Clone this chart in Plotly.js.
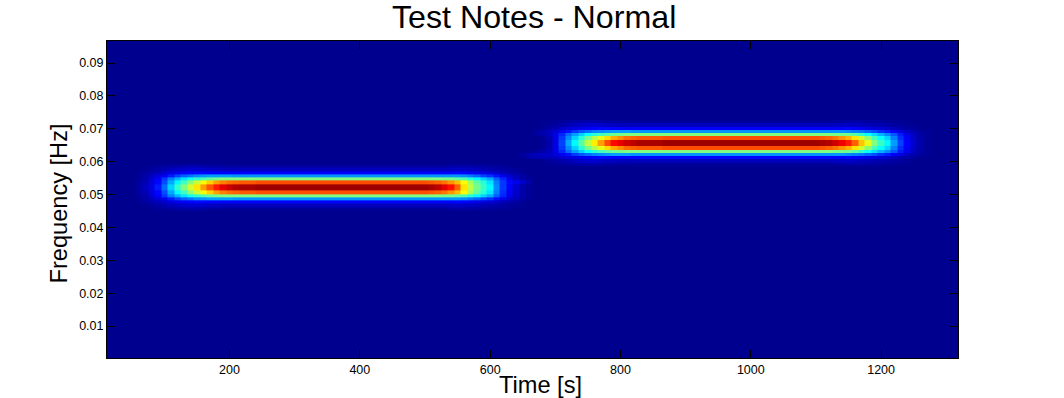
<!DOCTYPE html>
<html><head><meta charset="utf-8">
<script src="https://cdn.plot.ly/plotly-3.0.1.min.js"></script>
<style>html,body{margin:0;padding:0;background:#fff}</style></head>
<body><div id="chart" style="width:1064px;height:398px"></div>
<script>
const xTicks = [200,400,600,800,1000,1200];
const yTicks = [0.01,0.02,0.03,0.04,0.05,0.06,0.07,0.08,0.09];
const yTickText = ['0.01','0.02','0.03','0.04','0.05','0.06','0.07','0.08','0.09'];

const note1Time = [50,60,70,80,90,100,110,120,130,140,150,160,170,180,190,200,210,220,260,320,380,440,500,510,520,530,540,550,560,570,580,590,600,610,620,630,640,650,660];
const note1Freq = [0.04568,0.04668,0.04768,0.04868,0.04968,0.05068,0.05168,0.05268,0.05368,0.05468,0.05568,0.05668,0.05768,0.05868];
const n1r0 = [0,.02,.05,.09,.15,.23,.33,.42,.50,.58,.65,.72,.79,.85,.90,.93,.95,.96,.97,.97,.97,.97,.97,.96,.94,.90,.86,.78,.65,.56,.49,.43,.37,.26,.18,.12,.07,.03,.01];
const n1r1 = [0,.015,.04,.08,.13,.20,.29,.37,.44,.51,.57,.62,.67,.72,.75,.77,.78,.79,.80,.80,.80,.80,.80,.79,.78,.76,.73,.69,.62,.54,.47,.41,.35,.25,.17,.11,.065,.03,.01];
const n1r1up = [0,.015,.04,.08,.13,.20,.29,.37,.44,.51,.57,.62,.67,.72,.75,.77,.78,.79,.80,.80,.80,.80,.80,.79,.78,.76,.73,.69,.62,.54,.47,.41,.35,.25,.18,.13,.10,.07,.03];
const n1r2 = [0,.01,.03,.07,.12,.18,.25,.30,.35,.39,.42,.45,.47,.49,.50,.50,.50,.50,.50,.50,.50,.50,.50,.50,.50,.49,.49,.47,.45,.41,.37,.33,.29,.22,.16,.10,.06,.03,.01];
const n1r3 = [0,.01,.025,.05,.08,.11,.15,.19,.22,.24,.26,.27,.28,.28,.28,.28,.27,.27,.27,.27,.27,.27,.27,.27,.27,.27,.27,.27,.26,.24,.22,.19,.17,.14,.10,.07,.045,.025,.01];
const n1r4 = [0,.005,.02,.035,.05,.07,.09,.105,.115,.125,.13,.13,.125,.125,.12,.12,.12,.12,.12,.12,.12,.12,.12,.12,.12,.12,.125,.13,.125,.11,.10,.09,.08,.065,.05,.035,.02,.01,0];
const n1r5 = [0,0,.005,.015,.025,.035,.05,.06,.065,.07,.07,.065,.06,.055,.05,.05,.05,.05,.05,.05,.05,.05,.05,.05,.05,.05,.055,.06,.06,.055,.05,.04,.035,.03,.02,.015,.01,.005,0];
const n1r6 = [0,0,0,.005,.01,.015,.02,.025,.03,.03,.03,.025,.02,.02,.015,.015,.01,.01,.01,.01,.01,.01,.01,.01,.01,.015,.02,.025,.025,.025,.02,.02,.015,.01,.01,.005,0,0,0];

const note2Time = [650,660,670,680,690,700,710,720,730,740,750,760,770,780,790,800,810,820,830,900,970,1040,1100,1110,1120,1130,1140,1150,1160,1170,1180,1190,1200,1210,1220,1230,1240,1250,1260,1270];
const note2Freq = [0.05917,0.06017,0.06117,0.06217,0.06317,0.06417,0.06517,0.06617,0.06717,0.06817,0.06917,0.07017,0.07117,0.07217];
const n2r0 = [0,0,0,.005,.03,.09,.19,.29,.37,.46,.56,.64,.72,.80,.87,.90,.92,.94,.96,.97,.97,.97,.97,.96,.95,.92,.89,.85,.78,.68,.60,.50,.43,.37,.28,.19,.12,.07,.03,.01];
const n2r1 = [0,0,0,.01,.035,.09,.18,.26,.33,.41,.49,.55,.60,.66,.71,.74,.77,.78,.79,.80,.80,.80,.80,.79,.78,.76,.73,.70,.65,.58,.51,.44,.38,.33,.25,.17,.11,.065,.03,.01];
const n2r2 = [0,0,.015,.03,.05,.09,.16,.23,.28,.33,.38,.41,.44,.46,.48,.49,.50,.50,.50,.50,.50,.50,.50,.50,.50,.49,.49,.48,.46,.42,.38,.34,.30,.26,.21,.15,.10,.06,.025,.01];
const n2r3 = [0,0,.015,.03,.05,.075,.11,.14,.18,.21,.23,.25,.26,.27,.28,.28,.28,.27,.27,.27,.27,.27,.27,.27,.27,.27,.27,.26,.25,.24,.22,.20,.17,.15,.12,.09,.06,.035,.02,.01];
const n2r3low = [.02,.04,.05,.055,.06,.08,.11,.14,.18,.21,.23,.25,.26,.27,.28,.28,.28,.27,.27,.27,.27,.27,.27,.27,.27,.27,.27,.26,.25,.24,.22,.20,.17,.15,.12,.09,.06,.035,.02,.01];
const n2r4 = [0,0,0,.01,.025,.04,.065,.08,.09,.105,.115,.125,.13,.13,.125,.125,.12,.12,.12,.12,.12,.12,.12,.12,.12,.12,.125,.13,.125,.11,.10,.09,.08,.065,.05,.035,.025,.015,.005,0];
const n2r4low = [.01,.03,.04,.045,.05,.055,.07,.08,.09,.105,.115,.125,.13,.13,.125,.125,.12,.12,.12,.12,.12,.12,.12,.12,.12,.12,.125,.13,.125,.11,.10,.09,.08,.065,.05,.035,.025,.015,.005,0];
const n2r5 = [0,0,0,.005,.01,.02,.03,.04,.055,.065,.07,.07,.065,.06,.055,.05,.05,.05,.05,.05,.05,.05,.05,.05,.05,.055,.06,.06,.055,.05,.045,.04,.035,.03,.02,.015,.01,.005,0,0];
const n2r6 = [0,0,0,0,.005,.01,.015,.02,.025,.03,.03,.03,.025,.02,.02,.015,.015,.01,.01,.01,.01,.01,.01,.01,.01,.015,.02,.025,.025,.025,.02,.02,.015,.01,.01,.005,.005,0,0,0];

const jet = [[0,'rgb(0,0,143)'],[0.125,'rgb(0,0,255)'],[0.375,'rgb(0,255,255)'],[0.625,'rgb(255,255,0)'],[0.875,'rgb(255,0,0)'],[1,'rgb(128,0,0)']];

const band = (x,y,z) => ({type:'heatmap',x,y,z,zmin:0,zmax:1,colorscale:jet,showscale:false,zsmooth:false,hoverinfo:'skip'});
const data = [
  band(note1Time,note1Freq,[n1r6,n1r5,n1r4,n1r3,n1r2,n1r1,n1r0,n1r0,n1r1up,n1r2,n1r3,n1r4,n1r5,n1r6]),
  band(note2Time,note2Freq,[n2r6,n2r5,n2r4low,n2r3low,n2r2,n2r1,n2r0,n2r0,n2r1,n2r2,n2r3,n2r4,n2r5,n2r6])
];
const font = 'Liberation Sans, Arial, sans-serif';
const layout = {
  width:1064,height:398,
  margin:{l:107,r:106,t:41,b:40,pad:0},
  paper_bgcolor:'#fff',plot_bgcolor:'rgb(0,0,143)',
  font:{family:font,color:'#000'},
  title:{text:'Test Notes - Normal',font:{size:32.2,family:font,color:'#000'},x:0.502,xanchor:'center',y:0.958,yanchor:'middle'},
  xaxis:{range:[12,1318],tickmode:'array',tickvals:xTicks,ticktext:xTicks.map(String),ticks:'inside',ticklen:8,tickwidth:1,tickcolor:'#000',
    showline:true,linecolor:'#000',linewidth:1,mirror:'allticks',showgrid:false,zeroline:false,tickfont:{size:12.5,family:font,color:'#000'},
    title:{text:'Time [s]',font:{size:23.6,family:font,color:'#000'},standoff:0}},
  yaxis:{range:[0.00027,0.0967],tickmode:'array',tickvals:yTicks,ticktext:yTickText,ticks:'inside',ticklen:8,tickwidth:1,tickcolor:'#000',
    showline:true,linecolor:'#000',linewidth:1,mirror:'allticks',showgrid:false,zeroline:false,tickfont:{size:12.5,family:font,color:'#000'},
    title:{text:'Frequency [Hz]',font:{size:23.6,family:font,color:'#000'},standoff:12}}
};
Plotly.newPlot('chart',data,layout,{displayModeBar:false,staticPlot:true}).then(function(){
  const nudge = function(sel,dx,dy){
    const el = document.querySelector(sel);
    if(el){ el.setAttribute('transform','translate('+dx+','+dy+') '+(el.getAttribute('transform')||'')); }
  };
  nudge('.xtitle',8,0);
  nudge('.ytitle',8,4);
});
</script></body></html>
